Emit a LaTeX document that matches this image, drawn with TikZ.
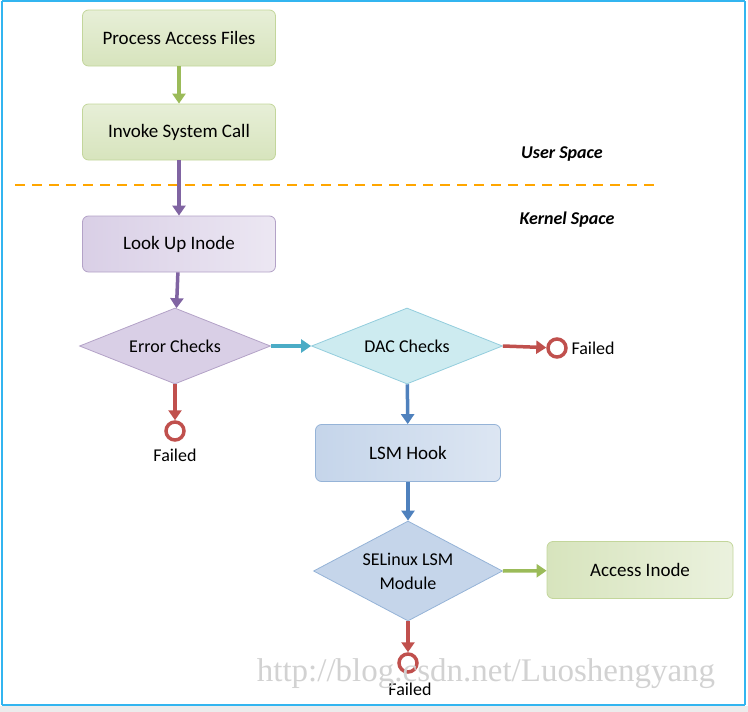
\documentclass[tikz,border=0pt]{standalone}
\usepackage{fontspec}
\setmainfont{Carlito}
\newfontfamily\wm{Liberation Serif}
\usetikzlibrary{shapes.geometric,arrows.meta}
\definecolor{gfill}{HTML}{D7E4BD}\definecolor{gline}{HTML}{C3D69B}\definecolor{garr}{HTML}{9BBB59}
\definecolor{pfill}{HTML}{D9CFE6}\definecolor{pline}{HTML}{B3A2C7}\definecolor{parr}{HTML}{8064A2}
\definecolor{cfill}{HTML}{CDEBF0}\definecolor{cline}{HTML}{93CDDD}\definecolor{carr}{HTML}{4BACC6}
\definecolor{bfill}{HTML}{C5D5EA}\definecolor{bline}{HTML}{95B3D7}\definecolor{barr}{HTML}{4F81BD}
\definecolor{rarr}{HTML}{C0504D}\definecolor{frame}{HTML}{33B5F0}
\tikzset{
 box/.style={rounded corners=6pt,minimum width=193pt,minimum height=56pt,font=\fontsize{19}{21}\selectfont,line width=0.8pt},
 dia/.style={diamond,aspect=2.5,inner sep=0pt,font=\fontsize{18}{24}\selectfont,align=center,line width=0.8pt},
 arr/.style={line width=3.5pt,-{Triangle[length=10pt,width=13pt]}},
 fail/.style={circle,draw=rarr,line width=3.5pt,minimum size=18pt,inner sep=0pt},
 lab/.style={font=\fontsize{18}{20}\selectfont},
 sp/.style={font=\fontsize{18}{20}\selectfont\bfseries\itshape}
}
\begin{document}
\begin{tikzpicture}[x=1pt,y=-1pt]
\useasboundingbox (0,0) rectangle (748,712);
\fill[gray!15] (0,706) rectangle (748,712);
\draw[frame,line width=2pt] (2,1) -- (745,1) (2,1) -- (2,705) (745,1) -- (745,705) (2,705) -- (745,705);
\node[box,draw=gline,top color=gfill!60,bottom color=gfill] (paf) at (179,38) {Process Access Files};
\node[box,draw=gline,top color=gfill!60,bottom color=gfill] (isc) at (179,132) {Invoke System Call};
\draw[orange!70!yellow,line width=2.5pt,dash pattern=on 10pt off 7pt] (15,185) -- (660,185);
\node[sp] (us) at (562,154) {User Space};
\node[sp] (ks) at (567,220) {Kernel Space};
\node[box,draw=pline,left color=pfill,right color=pfill!50] (lui) at (179,244) {Look Up Inode};
\node[dia,draw=pline,fill=pfill,minimum width=191pt,minimum height=76pt] (ec) at (175,346) {Error Checks};
\node[dia,draw=cline,fill=cfill,minimum width=191pt,minimum height=76pt] (dac) at (407,346) {DAC Checks};
\node[fail] (f1) at (557,348) {};
\node[lab,anchor=west] (f1t) at (568,348) {Failed};
\node[fail] (f2) at (175,431) {};
\node[lab] (f2t) at (175,455) {Failed};
\node[box,draw=bline,left color=bfill,right color=bfill!60,minimum width=185pt,minimum height=57pt] (lsm) at (408,453) {LSM Hook};
\node[dia,draw=bline,fill=bfill,minimum width=189pt,minimum height=100pt,aspect=1.9] (se) at (408,571) {SELinux LSM\\Module};
\node[box,draw=gline,left color=gfill,right color=gfill!50,minimum width=186pt,minimum height=57pt] (ai) at (640,570) {Access Inode};
\node[fail] (f3) at (408,663) {};
\node[lab] (f3t) at (410,689) {Failed};
\node[font=\wm\fontsize{33}{35}\selectfont,text=gray!35] (wm) at (486,674) {http://blog.csdn.net/Luoshengyang};
\draw[arr,garr] (paf) -- (isc);
\draw[arr,parr] (isc) -- (lui);
\draw[arr,parr] (lui) -- (ec);
\draw[arr,carr] (ec) -- (dac);
\draw[arr,rarr] (dac.east) -- (f1);
\draw[arr,rarr] (ec.south) -- (f2);
\draw[arr,barr] (dac) -- (lsm);
\draw[arr,barr] (lsm) -- (se);
\draw[arr,garr] (se.east) -- (ai);
\draw[arr,rarr] (se.south) -- (f3);
\end{tikzpicture}
\end{document}
